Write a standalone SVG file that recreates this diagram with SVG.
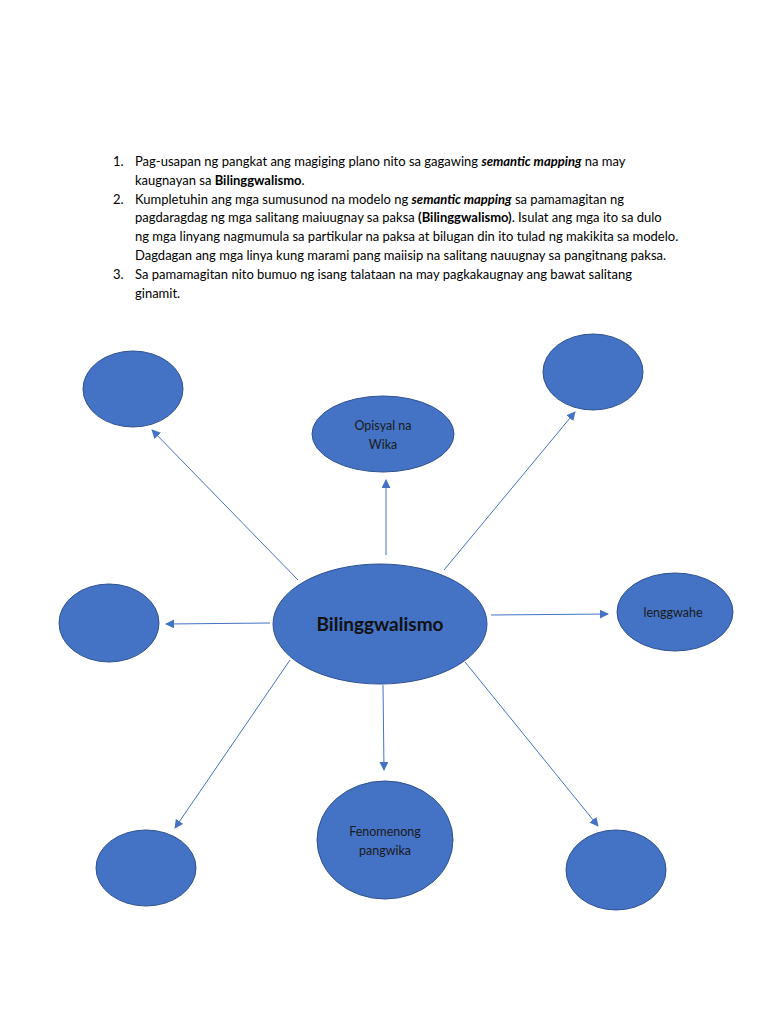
<svg xmlns="http://www.w3.org/2000/svg" width="768" height="1024" viewBox="0 0 768 1024">
<defs>
<style>
.t{font-family:Lato,"Open Sans","Liberation Sans",sans-serif;font-size:13px;fill:#000}
.n{fill:#4472C4;stroke:#2F528F;stroke-width:1}
.l{font-family:Lato,"Open Sans","Liberation Sans",sans-serif;font-size:12.5px;fill:#1a1a1a;text-anchor:middle}
.c line{stroke:#4472C4;stroke-width:1;marker-end:url(#ah)}
</style>
<marker id="ah" viewBox="0 0 10 10" refX="9" refY="5" markerWidth="9" markerHeight="9" markerUnits="userSpaceOnUse" orient="auto">
<path d="M0,0 L10,5 L0,10 z" fill="#4472C4"/>
</marker>
</defs>
<rect width="768" height="1024" fill="#fff"/>
<g id="instructions" class="t">
<text x="113" y="166">1.</text>
<text x="135" y="166">Pag-usapan ng pangkat ang magiging plano nito sa gagawing <tspan font-weight="bold" font-style="italic">semantic mapping</tspan> na may</text>
<text x="135" y="185">kaugnayan sa <tspan font-weight="bold">Bilinggwalismo</tspan>.</text>
<text x="113" y="204">2.</text>
<text x="135" y="204">Kumpletuhin ang mga sumusunod na modelo ng <tspan font-weight="bold" font-style="italic">semantic mapping</tspan> sa pamamagitan ng</text>
<text x="135" y="222">pagdaragdag ng mga salitang maiuugnay sa paksa <tspan font-weight="bold">(Bilinggwalismo)</tspan>. Isulat ang mga ito sa dulo</text>
<text x="135" y="241">ng mga linyang nagmumula sa partikular na paksa at bilugan din ito tulad ng makikita sa modelo.</text>
<text x="135" y="260">Dagdagan ang mga linya kung marami pang maiisip na salitang nauugnay sa pangitnang paksa.</text>
<text x="113" y="279">3.</text>
<text x="135" y="279">Sa pamamagitan nito bumuo ng isang talataan na may pagkakaugnay ang bawat salitang</text>
<text x="135" y="298">ginamit.</text>
</g>
<g id="connectors" class="c">
<line x1="298" y1="580" x2="152" y2="430"/>
<line x1="386" y1="555" x2="386" y2="480"/>
<line x1="444" y1="570" x2="575" y2="412"/>
<line x1="270" y1="623" x2="166" y2="624"/>
<line x1="491" y1="615" x2="608" y2="614"/>
<line x1="290" y1="660" x2="175" y2="828"/>
<line x1="383" y1="685" x2="384" y2="770"/>
<line x1="465" y1="662" x2="598" y2="826"/>
</g>
<g id="node-top-left"><ellipse class="n" cx="133" cy="389" rx="50" ry="38"/></g>
<g id="node-top-right"><ellipse class="n" cx="593" cy="372" rx="50" ry="38"/></g>
<g id="node-opisyal"><ellipse class="n" cx="383" cy="434" rx="71" ry="38"/>
<text class="l" x="383" y="430">Opisyal na</text><text class="l" x="383" y="449">Wika</text></g>
<g id="node-left"><ellipse class="n" cx="109" cy="623" rx="50" ry="39"/></g>
<g id="node-center"><ellipse class="n" cx="380" cy="624" rx="107" ry="60"/>
<text x="380" y="631" text-anchor="middle" font-family="Lato,'Open Sans','Liberation Sans',sans-serif" font-size="19" font-weight="bold" fill="#111">Bilinggwalismo</text></g>
<g id="node-lenggwahe"><ellipse class="n" cx="675" cy="612" rx="58" ry="39"/>
<text class="l" x="673" y="617">lenggwahe</text></g>
<g id="node-bottom-left"><ellipse class="n" cx="146" cy="868" rx="50" ry="38"/></g>
<g id="node-fenomenong"><ellipse class="n" cx="385" cy="840" rx="68" ry="59"/>
<text class="l" x="385" y="836">Fenomenong</text><text class="l" x="385" y="855">pangwika</text></g>
<g id="node-bottom-right"><ellipse class="n" cx="616" cy="870" rx="50" ry="40"/></g>
</svg>
